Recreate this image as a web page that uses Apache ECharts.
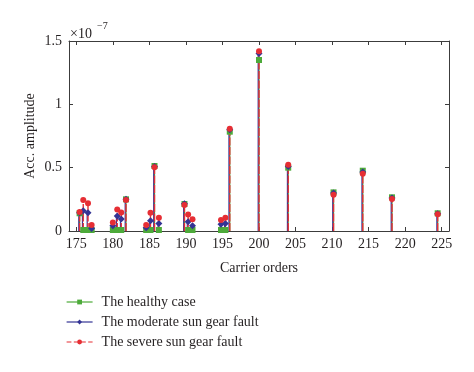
<!DOCTYPE html>
<html>
<head>
<meta charset="utf-8">
<script src="https://cdn.jsdelivr.net/npm/echarts@6/dist/echarts.min.js"></script>
<style>html,body{margin:0;padding:0;background:#fff}#c{width:474px;height:372px}</style>
</head>
<body>
<div id="c"></div>
<script>
// Carrier orders of the spectral lines
const orders = [175.45, 175.95, 176.6, 177.1, 180.0, 180.6, 181.15, 181.8, 184.56, 185.15, 185.7, 186.3,
  189.8, 190.3, 190.9, 194.8, 195.4, 196.0, 200, 204, 210.2, 214.2, 218.2, 224.45];
// Acc. amplitude, in units of 1e-7
const healthy = [0.14, 0.008, 0.008, 0.008, 0.008, 0.008, 0.008, 0.25, 0.008, 0.008, 0.513, 0.008,
  0.213, 0.008, 0.008, 0.008, 0.008, 0.784, 1.35, 0.50, 0.305, 0.476, 0.266, 0.14];
const moderate = [0.145, 0.16, 0.145, 0.02, 0.042, 0.118, 0.095, 0.25, 0.026, 0.08, 0.51, 0.06,
  0.215, 0.073, 0.042, 0.053, 0.06, 0.80, 1.402, 0.51, 0.30, 0.465, 0.26, 0.137];
const severe = [0.15, 0.245, 0.22, 0.047, 0.068, 0.17, 0.147, 0.245, 0.047, 0.145, 0.503, 0.105,
  0.205, 0.13, 0.092, 0.087, 0.105, 0.807, 1.42, 0.523, 0.287, 0.452, 0.253, 0.132];
const xTicks = [175, 180, 185, 190, 195, 200, 205, 210, 215, 220, 225];
const yTicks = [0, 0.5, 1, 1.5];
const seriesNames = ['The healthy case', 'The moderate sun gear fault', 'The severe sun gear fault'];

const colors = ['#4daa3a', '#343494', '#e62e34'];
const symbols = ['rect', 'diamond', 'circle'];
const symSizes = [6, 7, 6];
const dashed = [false, false, true];
const valueSets = [healthy, moderate, severe];
const font = '"Liberation Serif", "DejaVu Serif", serif';
const textColor = '#231f20';
const axisColor = '#3c3c3c';

const series = [];
// one custom series drawing the stems of all three cases (green, blue, then red on top)
series.push({
  type: 'custom',
  name: 'stems',
  data: orders.map((o, i) => [o, healthy[i], moderate[i], severe[i]]),
  encode: { x: 0, y: [1, 2, 3] },
  z: 3,
  silent: true,
  renderItem: function (params, api) {
    const children = [];
    for (let k = 0; k < 3; k++) {
      const p0 = api.coord([api.value(0), 0]);
      const p1 = api.coord([api.value(0), api.value(1 + k)]);
      const x = p0[0] + (k === 1 ? -0.8 : 0);
      children.push({
        type: 'line',
        z2: k,
        shape: { x1: x, y1: p0[1], x2: x, y2: p1[1] },
        style: { stroke: colors[k], lineWidth: k === 2 ? 1.4 : 1.2, lineDash: dashed[k] ? [8, 1.5] : null }
      });
    }
    return { type: 'group', children: children };
  }
});
valueSets.forEach((vals, k) => {
  series.push({
    type: 'line',
    name: seriesNames[k],
    data: orders.map((o, i) => [o, vals[i]]),
    z: 10 + k,
    symbol: symbols[k],
    symbolSize: symSizes[k],
    showSymbol: true,
    itemStyle: { color: colors[k] },
    lineStyle: { color: colors[k], opacity: 0, width: 0 },
    silent: true
  });
});

const chart = echarts.init(document.getElementById('c'));
chart.setOption({
  animation: false,
  backgroundColor: '#fff',
  grid: { left: 69, right: 25, top: 41, bottom: 141 },
  xAxis: [{
    type: 'value', min: 174, max: 226, position: 'bottom',
    axisLine: { show: true, onZero: false, lineStyle: { color: axisColor, width: 1 } },
    axisTick: { show: true, inside: true, length: 4, customValues: xTicks, lineStyle: { color: axisColor } },
    axisLabel: { customValues: xTicks, fontFamily: font, fontSize: 14, color: textColor, margin: 6 },
    splitLine: { show: false },
    name: 'Carrier orders', nameLocation: 'middle', nameGap: 30, nameMoveOverlap: false,
    nameTextStyle: { fontFamily: font, fontSize: 14, color: textColor }
  }, {
    type: 'value', min: 174, max: 226, position: 'top',
    axisLine: { show: true, onZero: false, lineStyle: { color: axisColor, width: 1 } },
    axisTick: { show: true, inside: true, length: 4, customValues: xTicks, lineStyle: { color: axisColor } },
    axisLabel: { show: false },
    splitLine: { show: false }
  }],
  yAxis: [{
    type: 'value', min: 0, max: 1.5, interval: 0.5, position: 'left',
    axisLine: { show: true, onZero: false, lineStyle: { color: axisColor, width: 1 } },
    axisTick: { show: true, inside: true, length: 4, lineStyle: { color: axisColor } },
    axisLabel: { fontFamily: font, fontSize: 14, color: textColor, margin: 7 },
    splitLine: { show: false },
    name: 'Acc. amplitude', nameLocation: 'middle', nameGap: 32, nameRotate: 90, nameMoveOverlap: false,
    nameTextStyle: { fontFamily: font, fontSize: 14, color: textColor }
  }, {
    type: 'value', min: 0, max: 1.5, interval: 0.5, position: 'right',
    axisLine: { show: true, onZero: false, lineStyle: { color: axisColor, width: 1 } },
    axisTick: { show: true, inside: true, length: 4, lineStyle: { color: axisColor } },
    axisLabel: { show: false },
    splitLine: { show: false }
  }],
  legend: {
    orient: 'vertical', left: 66, top: 295, padding: 0,
    itemWidth: 26, itemHeight: 6, itemGap: 6,
    textStyle: { fontFamily: font, fontSize: 14, color: textColor, padding: [0, 0, 0, 4] },
    data: seriesNames.map((n, k) => ({
      name: n,
      lineStyle: { opacity: 1, width: 1.2, type: dashed[k] ? 'dashed' : 'solid', color: colors[k] }
    }))
  },
  graphic: [
    { type: 'text', left: 70, top: 27, style: { text: '×10', fontFamily: font, fontSize: 14, fill: textColor } },
    { type: 'text', left: 97, top: 21, style: { text: '−7', fontFamily: font, fontSize: 10, fill: textColor } }
  ],
  series: series
});
</script>
</body>
</html>
